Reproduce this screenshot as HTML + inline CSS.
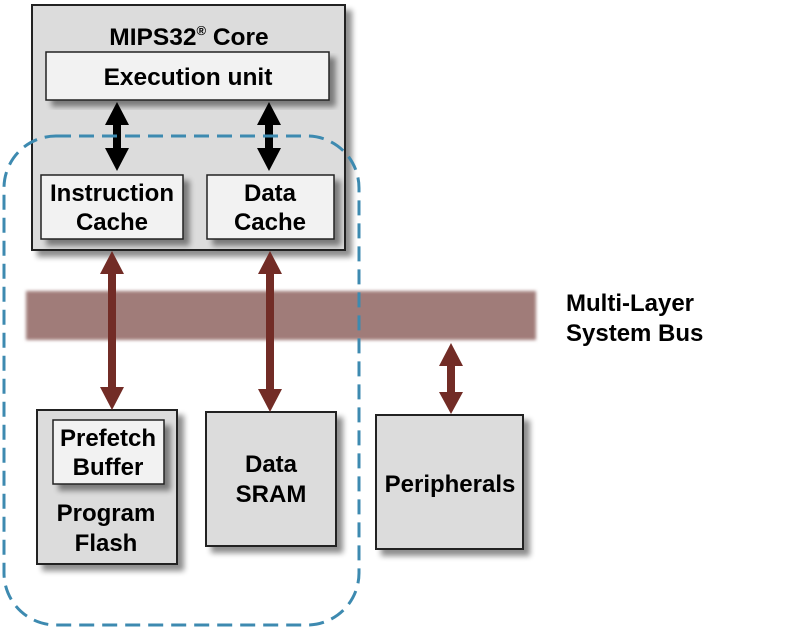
<!DOCTYPE html>
<html><head><style>
body{margin:0;background:#fff;}
svg text{font-family:"Liberation Sans",Arial,sans-serif;font-weight:bold;fill:#000;}
</style></head><body>
<svg width="795" height="629" viewBox="0 0 795 629" xmlns="http://www.w3.org/2000/svg">
<defs>
<filter id="sh" x="-10%" y="-10%" width="130%" height="130%">
<feGaussianBlur in="SourceAlpha" stdDeviation="3"/>
<feOffset dx="6" dy="6"/>
<feComponentTransfer><feFuncA type="linear" slope="0.45"/></feComponentTransfer>
<feMerge><feMergeNode/><feMergeNode in="SourceGraphic"/></feMerge>
</filter>
<filter id="bl" x="-5%" y="-30%" width="110%" height="160%">
<feGaussianBlur stdDeviation="1.5"/>
</filter>
</defs>
<rect x="32" y="5" width="313" height="245" fill="#dcdcdc" stroke="#222" stroke-width="2" filter="url(#sh)"/>
<text x="189" y="45" font-size="24.5" text-anchor="middle">MIPS32<tspan font-size="13" dy="-10">®</tspan><tspan dy="10"> Core</tspan></text>
<rect x="46" y="52" width="283" height="48" fill="#f2f2f2" stroke="#222" stroke-width="1.5" filter="url(#sh)"/>
<text x="188" y="85" font-size="24.5" text-anchor="middle">Execution unit</text>
<rect x="41" y="175" width="142" height="64" fill="#f2f2f2" stroke="#222" stroke-width="1.5" filter="url(#sh)"/>
<text x="112" y="201" font-size="24" text-anchor="middle">Instruction</text>
<text x="112" y="230" font-size="24" text-anchor="middle">Cache</text>
<rect x="207" y="175" width="127" height="64" fill="#f2f2f2" stroke="#222" stroke-width="1.5" filter="url(#sh)"/>
<text x="270" y="201" font-size="24" text-anchor="middle">Data</text>
<text x="270" y="230" font-size="24" text-anchor="middle">Cache</text>
<g fill="#000">
<path d="M117 102 L129 125 L121 125 L121 148 L129 148 L117 171 L105 148 L113 148 L113 125 L105 125 Z"/>
<path d="M269 102 L281 125 L273 125 L273 148 L281 148 L269 171 L257 148 L265 148 L265 125 L257 125 Z"/>
</g>
<rect x="26" y="291" width="510" height="49" fill="#a07c79" filter="url(#bl)"/>
<text x="566" y="311" font-size="24">Multi-Layer</text>
<text x="566" y="341" font-size="24">System Bus</text>
<rect x="37" y="410" width="140" height="154" fill="#dcdcdc" stroke="#222" stroke-width="2" filter="url(#sh)"/>
<rect x="53" y="420" width="111" height="64" fill="#f2f2f2" stroke="#222" stroke-width="1.5" filter="url(#sh)"/>
<text x="108" y="446" font-size="24" text-anchor="middle">Prefetch</text>
<text x="108" y="475" font-size="24" text-anchor="middle">Buffer</text>
<text x="106" y="521" font-size="24" text-anchor="middle">Program</text>
<text x="106" y="551" font-size="24" text-anchor="middle">Flash</text>
<rect x="206" y="412" width="130" height="134" fill="#dcdcdc" stroke="#222" stroke-width="2" filter="url(#sh)"/>
<text x="271" y="472" font-size="24" text-anchor="middle">Data</text>
<text x="271" y="502" font-size="24" text-anchor="middle">SRAM</text>
<rect x="376" y="415" width="147" height="134" fill="#dcdcdc" stroke="#222" stroke-width="2" filter="url(#sh)"/>
<text x="450" y="492" font-size="24" text-anchor="middle">Peripherals</text>
<g fill="#722c26">
<path d="M112 251 L124 274 L116 274 L116 387 L124 387 L112 410 L100 387 L108 387 L108 274 L100 274 Z"/>
<path d="M270 251 L282 274 L274 274 L274 389 L282 389 L270 412 L258 389 L266 389 L266 274 L258 274 Z"/>
<path d="M451 343 L463 366 L455 366 L455 392 L463 392 L451 414 L439 392 L447 392 L447 366 L439 366 Z"/>
</g>
<rect x="4" y="136" width="355" height="489" rx="52" ry="52" fill="none" stroke="#3d8ab0" stroke-width="3" stroke-dasharray="15 8"/>
</svg>
</body></html>
